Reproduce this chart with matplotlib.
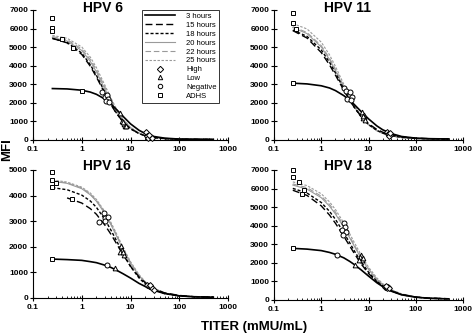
import numpy as np
import matplotlib
matplotlib.use("Agg")
import matplotlib.pyplot as plt
from matplotlib.lines import Line2D

plt.rcParams['font.family'] = ['Liberation Sans', 'DejaVu Sans']

# titer (mMU/mL) at which the fitted curves were read
titer_grid = [0.25, 0.5, 1, 1.5, 2, 3, 4, 5, 7, 10, 15, 20, 30, 50, 100, 200, 500]

# HPV 6 fitted curves (MFI)
hpv6_3h = [2770, 2750, 2680, 2580, 2460, 2200, 1930, 1680, 1280, 870, 520, 350, 190, 100, 50, 40, 30]
hpv6_15h = [5470, 5230, 4610, 3970, 3390, 2500, 1890, 1480, 980, 610, 350, 230, 140, 80, 50, 40, 30]
hpv6_18h = [5470, 5260, 4680, 4050, 3480, 2560, 1940, 1500, 980, 600, 340, 230, 130, 70, 40, 35, 30]
hpv6_20h = [5520, 5330, 4820, 4230, 3670, 2730, 2070, 1610, 1050, 640, 350, 230, 130, 70, 40, 35, 30]
hpv6_22h = [5570, 5400, 4900, 4330, 3770, 2840, 2170, 1690, 1110, 670, 370, 240, 140, 80, 45, 35, 30]
hpv6_25h = [5630, 5480, 5010, 4460, 3900, 2940, 2240, 1740, 1130, 680, 370, 240, 135, 75, 45, 35, 30]

# HPV 11
hpv11_3h = [3060, 3020, 2920, 2800, 2660, 2390, 2140, 1910, 1530, 1140, 760, 550, 350, 190, 100, 70, 55]
hpv11_15h = [5890, 5490, 4710, 4040, 3490, 2680, 2140, 1760, 1270, 880, 570, 420, 270, 170, 100, 70, 55]
hpv11_18h = [5920, 5580, 4850, 4180, 3610, 2750, 2170, 1760, 1240, 830, 520, 370, 240, 140, 85, 60, 55]
hpv11_20h = [6050, 5730, 5010, 4330, 3730, 2830, 2210, 1780, 1240, 820, 500, 360, 220, 130, 80, 60, 55]
hpv11_22h = [6100, 5790, 5080, 4400, 3810, 2890, 2270, 1830, 1280, 850, 520, 370, 230, 140, 80, 60, 55]
hpv11_25h = [6270, 5980, 5270, 4580, 3960, 3000, 2330, 1870, 1290, 840, 500, 350, 220, 130, 80, 60, 55]

# HPV 16 (15 hours curve starts at 0.5)
hpv16_3h = [1520, 1500, 1470, 1420, 1380, 1280, 1190, 1100, 950, 780, 570, 450, 300, 175, 85, 45, 30]
hpv16_15h = [3910, 3710, 3490, 3270, 2840, 2480, 2170, 1700, 1240, 820, 600, 370, 200, 100, 55, 40]
hpv16_18h = [4310, 4230, 4020, 3790, 3540, 3060, 2640, 2290, 1750, 1230, 780, 550, 330, 170, 80, 50, 35]
hpv16_20h = [4560, 4480, 4270, 4030, 3780, 3290, 2850, 2480, 1910, 1350, 860, 610, 360, 190, 90, 50, 35]
hpv16_22h = [4580, 4500, 4300, 4060, 3810, 3330, 2890, 2520, 1940, 1390, 880, 620, 370, 200, 90, 50, 35]
hpv16_25h = [4610, 4530, 4330, 4100, 3850, 3370, 2940, 2570, 1990, 1420, 910, 640, 380, 200, 90, 50, 35]

# HPV 18
hpv18_3h = [2780, 2740, 2660, 2560, 2460, 2270, 2080, 1910, 1620, 1290, 930, 720, 480, 280, 150, 90, 60]
hpv18_15h = [5910, 5630, 5070, 4570, 4130, 3430, 2910, 2510, 1940, 1430, 980, 740, 490, 300, 160, 100, 70]
hpv18_18h = [6010, 5760, 5250, 4770, 4340, 3620, 3080, 2650, 2050, 1500, 1010, 760, 500, 290, 150, 90, 65]
hpv18_20h = [6190, 5970, 5510, 5050, 4630, 3910, 3350, 2900, 2250, 1650, 1110, 820, 530, 310, 160, 100, 65]
hpv18_22h = [6250, 6050, 5590, 5140, 4730, 4000, 3420, 2960, 2300, 1680, 1120, 830, 530, 310, 160, 95, 65]
hpv18_25h = [6360, 6160, 5720, 5280, 4870, 4150, 3570, 3100, 2420, 1770, 1190, 880, 570, 330, 170, 100, 65]

# samples (titer, MFI)
hpv6_high = [(21, 430), (22, 200), (23, 130), (26, 150), (28, 120), (24, 250)]
hpv6_low = [(6.1, 1450), (6.8, 1000), (7.2, 850), (7.6, 780), (8.2, 750), (7.0, 950)]
hpv6_neg = [(2.6, 2570), (3.0, 2330), (3.3, 2450), (3.5, 2200), (3.2, 2100), (3.7, 2050)]
hpv6_adhs = [(0.24, 6550), (0.24, 6050), (0.24, 5870), (0.39, 5420), (0.67, 4940), (1.0, 2660)]

hpv11_high = [(25, 420), (26, 350), (27, 300), (28, 250), (27, 200), (29, 380)]
hpv11_low = [(7.3, 1490), (7.9, 1350), (8.1, 1260), (7.6, 1170), (7.8, 1300), (8.4, 1100)]
hpv11_neg = [(3.04, 2820), (3.3, 2640), (4.05, 2570), (4.5, 2330), (3.56, 2210), (4.3, 2150)]
hpv11_adhs = [(0.247, 6820), (0.247, 6280), (0.29, 5980), (0.247, 3050)]

hpv16_high = [(22, 520), (24, 450), (26, 420), (28, 380), (30, 330), (25, 500)]
hpv16_low = [(6.4, 2013), (6.7, 1884), (6.0, 1793), (7.3, 1689), (7.0, 1790), (4.7, 1170)]
hpv16_neg = [(2.8, 3312), (3.04, 3118), (3.4, 3183), (3.0, 3014), (2.3, 2962), (3.3, 1300)]
hpv16_adhs = [(0.24, 4910), (0.24, 4610), (0.24, 4325), (0.30, 4480), (0.62, 3858), (0.24, 1520)]

hpv18_high = [(22, 700), (24, 680), (26, 720), (25, 650), (27, 620), (23, 750)]
hpv18_low = [(6.9, 2423), (6.5, 2333), (7.3, 2154), (6.2, 2154), (7.6, 2244), (5.3, 1885)]
hpv18_neg = [(3.04, 4128), (3.14, 3949), (2.8, 3770), (3.3, 3680), (2.95, 3500), (2.2, 2423)]
hpv18_adhs = [(0.247, 7000), (0.247, 6605), (0.34, 6372), (0.44, 5924), (0.39, 5690), (0.247, 2782)]

hours = ["3 hours", "15 hours", "18 hours", "20 hours", "22 hours", "25 hours"]
sample_names = ["High", "Low", "Negative", "ADHS"]

gray = "#9a9a9a"
line_styles = [
    dict(color="k", lw=1.2, ls="-"),
    dict(color="k", lw=1.0, ls=(0, (5, 2.5))),
    dict(color="k", lw=1.0, ls=(0, (2.2, 1.4))),
    dict(color=gray, lw=0.8, ls="-"),
    dict(color=gray, lw=0.8, ls=(0, (5, 2.5))),
    dict(color=gray, lw=0.8, ls=(0, (2.2, 1.4))),
]
sample_markers = ["D", "^", "o", "s"]
msz = [3.0, 3.4, 3.6, 3.4]

panels = [
    ("HPV 6", [hpv6_3h, hpv6_15h, hpv6_18h, hpv6_20h, hpv6_22h, hpv6_25h],
     [hpv6_high, hpv6_low, hpv6_neg, hpv6_adhs], 7000,
     [33, 10, 228, 140], 83, 8),
    ("HPV 11", [hpv11_3h, hpv11_15h, hpv11_18h, hpv11_20h, hpv11_22h, hpv11_25h],
     [hpv11_high, hpv11_low, hpv11_neg, hpv11_adhs], 7000,
     [274, 10, 463, 140], 324, 8),
    ("HPV 16", [hpv16_3h, hpv16_15h, hpv16_18h, hpv16_20h, hpv16_22h, hpv16_25h],
     [hpv16_high, hpv16_low, hpv16_neg, hpv16_adhs], 5000,
     [33, 170, 228, 298], 83, 166),
    ("HPV 18", [hpv18_3h, hpv18_15h, hpv18_18h, hpv18_20h, hpv18_22h, hpv18_25h],
     [hpv18_high, hpv18_low, hpv18_neg, hpv18_adhs], 7000,
     [274, 170, 463, 300], 324, 166),
]

W, H = 474, 335
fig = plt.figure(figsize=(W / 100, H / 100), dpi=100)

axes = []
for title, curves, samples, ymax, box, tx, ty in panels:
    x0, y0, x1, y1 = box
    ax = fig.add_axes([x0 / W, 1 - y1 / H, (x1 - x0) / W, (y1 - y0) / H])
    axes.append(ax)
    ax.set_xscale("log")
    # draw gray curves first, black ones on top
    for k in [3, 4, 5, 0, 1, 2]:
        y = curves[k]
        x = titer_grid[len(titer_grid) - len(y):]
        ax.plot(x, y, **line_styles[k], zorder=2)
    for pts, m, s in zip(samples, sample_markers, msz):
        px = [p[0] for p in pts]
        py = [p[1] for p in pts]
        ax.plot(px, py, m, ms=s, mfc="w", mec="k", mew=0.7, ls="none",
                zorder=3, clip_on=False)
    ax.set_xlim(0.1, 1000)
    ax.set_ylim(0, ymax)
    ax.set_xticks([0.1, 1, 10, 100, 1000], labels=["0.1", "1", "10", "100", "1000"])
    ax.set_yticks(np.arange(0, ymax + 1, 1000))
    ax.spines["top"].set_visible(False)
    ax.spines["right"].set_visible(False)
    ax.spines["left"].set_linewidth(0.8)
    ax.spines["bottom"].set_linewidth(0.8)
    ax.tick_params(axis="both", which="major", direction="inout", length=4,
                   width=0.8, labelsize=6)
    ax.tick_params(axis="x", which="major", pad=2)
    ax.tick_params(axis="y", which="major", pad=1.5)
    ax.tick_params(axis="x", which="minor", direction="in", length=1.5, width=0.6)
    for lab in ax.get_xticklabels() + ax.get_yticklabels():
        lab.set_fontweight("bold")
    fig.text(tx / W, 1 - ty / H, title, fontsize=10, fontweight="bold",
             ha="left", va="center")

handles = [Line2D([], [], **st) for st in line_styles]
handles += [Line2D([], [], marker=m, ms=3.2, mfc="w", mec="k", mew=0.7, ls="none")
            for m in sample_markers]
leg = axes[0].legend(handles, hours + sample_names, loc="upper left",
                     bbox_to_anchor=(0.559, 1.0), borderaxespad=0, fontsize=5.5,
                     frameon=True, fancybox=False, edgecolor="k",
                     handlelength=4.0, handletextpad=1.4, labelspacing=0.2,
                     borderpad=0.35)
leg.get_frame().set_linewidth(0.7)

fig.text(7 / W, 1 - 150 / H, "MFI", rotation=90, fontsize=9.5, fontweight="bold",
         ha="center", va="center")
fig.text(254 / W, 1 - 327 / H, "TITER (mMU/mL)", fontsize=9.5, fontweight="bold",
         ha="center", va="center")

fig.savefig("out.png", dpi=100)
